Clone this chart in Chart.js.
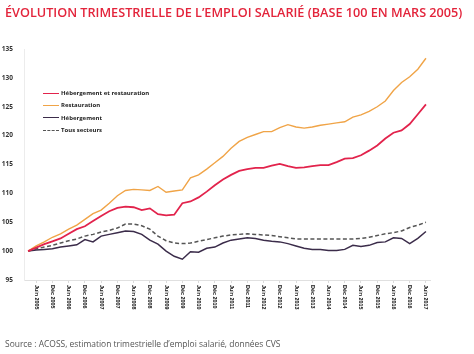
<!DOCTYPE html>
<html><head><meta charset="utf-8">
<script src="https://cdn.jsdelivr.net/npm/chart.js@4.4.0/dist/chart.umd.min.js"></script>
<style>
html,body{margin:0;padding:0;background:#fff;}
#wrap{position:relative;width:474px;height:354px;overflow:hidden;font-family:"Open Sans",sans-serif;}
#title{position:absolute;left:5px;top:3px;white-space:nowrap;color:#e3243b;font-weight:600;font-size:11.3px;line-height:18px;}
#src{position:absolute;left:5px;top:336px;white-space:nowrap;color:#555;font-size:9px;line-height:16px;}
canvas{position:absolute;left:0;top:0;}
#legend{position:absolute;left:43px;top:87px;font-weight:700;font-size:6px;color:#222;}
.row{height:12.3px;display:flex;align-items:center;white-space:nowrap;}
.sw{width:16px;margin-right:2px;height:0;}
</style></head>
<body>
<div id="wrap">
<canvas id="c" width="474" height="354"></canvas>
<div id="title">ÉVOLUTION TRIMESTRIELLE DE L’EMPLOI SALARIÉ (BASE 100 EN MARS 2005)</div>
<div id="legend"></div>
<div id="src">Source : ACOSS, estimation trimestrielle d’emploi salarié, données CVS</div>
</div>
<script>
const quarters = [
 'Mars 2005','Juin 2005','Sept 2005','Déc 2005',
 'Mars 2006','Juin 2006','Sept 2006','Déc 2006',
 'Mars 2007','Juin 2007','Sept 2007','Déc 2007',
 'Mars 2008','Juin 2008','Sept 2008','Déc 2008',
 'Mars 2009','Juin 2009','Sept 2009','Déc 2009',
 'Mars 2010','Juin 2010','Sept 2010','Déc 2010',
 'Mars 2011','Juin 2011','Sept 2011','Déc 2011',
 'Mars 2012','Juin 2012','Sept 2012','Déc 2012',
 'Mars 2013','Juin 2013','Sept 2013','Déc 2013',
 'Mars 2014','Juin 2014','Sept 2014','Déc 2014',
 'Mars 2015','Juin 2015','Sept 2015','Déc 2015',
 'Mars 2016','Juin 2016','Sept 2016','Déc 2016',
 'Mars 2017','Juin 2017'];
const tickLabels = ['Juin 2005','Déc 2005','Juin 2006','Déc 2006','Juin 2007','Déc 2007','Juin 2008','Déc 2008',
 'Juin 2009','Déc 2009','Juin 2010','Déc 2010','Juin 2011','Déc 2011','Juin 2012','Déc 2012','Juin 2013','Déc 2013',
 'Juin 2014','Déc 2014','Juin 2015','Déc 2015','Juin 2016','Déc 2016','Juin 2017'];
const yTicks = [95,100,105,110,115,120,125,130,135];

const hebRest = [100,100.6,101.2,101.7,102.2,103.0,103.8,104.3,105.2,106.1,
 106.9,107.5,107.7,107.6,107.1,107.4,106.4,106.2,106.3,108.3,
 108.6,109.3,110.3,111.4,112.4,113.2,113.9,114.2,114.4,114.4,
 114.8,115.1,114.7,114.4,114.5,114.7,114.9,114.9,115.4,116.0,
 116.1,116.6,117.4,118.3,119.5,120.5,120.9,122.0,123.7,125.4];
const restauration = [100,100.9,101.6,102.4,103.0,103.8,104.5,105.5,106.5,107.1,
 108.3,109.6,110.5,110.7,110.6,110.5,111.2,110.2,110.4,110.6,
 112.7,113.2,114.2,115.3,116.4,117.8,119.0,119.7,120.2,120.7,
 120.7,121.4,121.9,121.5,121.3,121.5,121.8,122.0,122.2,122.4,
 123.2,123.6,124.2,125.0,126.0,127.8,129.2,130.2,131.5,133.4];
const hebergement = [100,100.2,100.3,100.4,100.7,100.9,101.1,102.0,101.6,102.6,
 102.9,103.2,103.5,103.4,102.9,101.9,101.2,100.0,99.1,98.6,
 99.9,99.8,100.5,100.7,101.4,101.9,102.1,102.3,102.2,101.9,
 101.7,101.6,101.3,100.9,100.5,100.3,100.3,100.1,100.1,100.3,
 101.0,100.8,101.0,101.5,101.6,102.3,102.2,101.3,102.2,103.4];
const tousSecteurs = [100,100.4,100.7,101.0,101.4,101.8,102.1,102.6,102.9,103.3,
 103.6,104.0,104.7,104.7,104.4,103.8,102.6,101.8,101.4,101.3,
 101.4,101.7,102.0,102.3,102.6,102.8,102.9,103.0,102.9,102.8,
 102.7,102.5,102.3,102.1,102.1,102.1,102.1,102.1,102.1,102.1,
 102.1,102.2,102.4,102.7,103.0,103.2,103.5,104.1,104.5,105.0];

const seriesNames = ['Hébergement et restauration','Restauration','Hébergement','Tous secteurs'];
const colors = ['#e2234c','#f0a447','#3b2c4a','#555555'];

function fit(el, w){
  const r = el.getBoundingClientRect().width;
  const fs = parseFloat(getComputedStyle(el).fontSize);
  el.style.fontSize = (fs*w/r)+'px';
}
fit(document.getElementById('title'), 458);
fit(document.getElementById('src'), 276);

const xLabelPlugin = {
  id:'xlab',
  afterDraw(chart){
    const s = chart.scales.x, c = chart.ctx;
    c.save();
    c.fillStyle = '#111';
    c.font = 'bold 5.4px "Liberation Sans", Arial, sans-serif';
    c.textAlign = 'left';
    c.textBaseline = 'middle';
    quarters.forEach((q,i)=>{
      if(!tickLabels.includes(q)) return;
      const x = s.getPixelForTick(i);
      c.save();
      c.translate(x, s.top + 5);
      c.rotate(Math.PI/2);
      c.fillText(q, 0, 0);
      c.restore();
    });
    c.restore();
  }
};

const ds = [
  {label:seriesNames[0], data:hebRest, borderColor:colors[0], borderWidth:1.8},
  {label:seriesNames[1], data:restauration, borderColor:colors[1], borderWidth:1.4},
  {label:seriesNames[2], data:hebergement, borderColor:colors[2], borderWidth:1.5},
  {label:seriesNames[3], data:tousSecteurs, borderColor:colors[3], borderWidth:1.5, borderDash:[4,2.5]}
];

new Chart(document.getElementById('c'), {
  type:'line',
  data:{labels:quarters, datasets:ds},
  options:{
    responsive:false, animation:false, devicePixelRatio:1,
    elements:{point:{radius:0}, line:{tension:0, fill:false}},
    layout:{padding:{top:49, right:44, left:0, bottom:0}},
    plugins:{legend:{display:false}, tooltip:{enabled:false}, title:{display:false}},
    scales:{
      x:{type:'category', offset:true,
         grid:{display:true, drawOnChartArea:false, drawTicks:true, tickLength:3, offset:false,
               color:(ctx)=> (ctx.tick && tickLabels.includes(quarters[ctx.index])) ? '#dcdcdc' : 'rgba(0,0,0,0)'},
         border:{display:true, color:'#e0e0e0'},
         ticks:{display:false, autoSkip:false},
         afterFit(s){ s.height = 74; }},
      y:{min:95, max:135,
         afterBuildTicks(s){ s.ticks = yTicks.map(v=>({value:v})); },
         ticks:{padding:3, color:'#333', font:{family:'Open Sans', weight:'bold', size:6.5}},
         grid:{display:false},
         border:{display:true, color:'#ececec'},
         afterFit(s){ s.width = 24; }}
    }
  },
  plugins:[xLabelPlugin]
});

const leg = document.getElementById('legend');
seriesNames.forEach((n,i)=>{
  const row = document.createElement('div'); row.className='row';
  const sw = document.createElement('span'); sw.className='sw';
  sw.style.borderTop = (i===3 ? '1.5px dashed ' : (i===0 ? '1.8px solid ' : '1.5px solid ')) + colors[i];
  const t = document.createElement('span'); t.textContent = n;
  row.appendChild(sw); row.appendChild(t); leg.appendChild(row);
});
</script>
</body></html>
